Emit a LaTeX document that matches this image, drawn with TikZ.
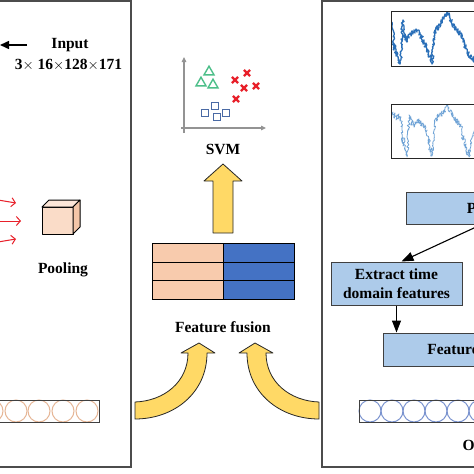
\documentclass[tikz,border=0pt]{standalone}
\usepackage{fontspec}
\setmainfont{Liberation Serif}
\usetikzlibrary{arrows.meta, positioning, calc, plotmarks, decorations.pathmorphing}

\definecolor{peach}{HTML}{F8CBAD}
\definecolor{fusblue}{HTML}{4472C4}
\definecolor{fatyellow}{HTML}{FFD966}
\definecolor{stepblue}{HTML}{ADCBEA}
\definecolor{arrowred}{HTML}{E8202A}
\definecolor{trigreen}{HTML}{4DBF8A}
\definecolor{sqblue}{HTML}{4A6AA5}
\definecolor{cubefront}{HTML}{FADCC8}
\definecolor{cubetop}{HTML}{FCE6D8}
\definecolor{cubeside}{HTML}{F4C6A8}
\definecolor{ringpeach}{HTML}{E6B696}
\definecolor{ringblue}{HTML}{7A93CF}
\definecolor{wavedark}{HTML}{2A6FB8}
\definecolor{wavelight}{HTML}{6FA3D6}

\begin{document}
\begin{tikzpicture}[
    x=1pt, y=-1pt,
    font=\fontsize{15.5}{19}\selectfont\bfseries,
    % Styles
    panel/.style={draw=black!70, line width=1.5pt},
    stepbox/.style={
        draw=black!75, fill=stepblue, line width=1pt, align=center, inner sep=0pt
    },
    conn/.style={-{Triangle[length=12pt,width=9pt]}, line width=1.1pt},
    redarrow/.style={-{Straight Barb[length=4pt,width=9pt]}, draw=arrowred, line width=1pt},
    axis/.style={-{Triangle[length=5pt,width=4.5pt]}, draw=gray!85, line width=1.2pt},
    bigarrow/.style={draw=black!85, fill=fatyellow, line width=0.8pt, line join=round},
    cell/.style={
        draw=black, line width=1pt, minimum width=71pt, minimum height=18.7pt,
        inner sep=0pt, anchor=north west
    },
    bar/.style={draw=black!75, line width=1pt},
    wavebox/.style={draw=black!85, line width=1pt},
    wave/.style={line join=round,
        decorate, decoration={random steps, segment length=1.4pt, amplitude=1.3pt}},
    cubeface/.style={draw=black, line width=1pt, line join=round}
]

    % --- Frame ---
    \useasboundingbox (0,0) rectangle (474,474);
    \clip (0,0) rectangle (474,474);
    \fill[white] (0,0) rectangle (474,474);
    \pgfmathsetseed{11}

    % --- Left panel ---
    \draw[panel] (-10,1) rectangle (131,467);

    \node (input) at (70,45) {Input};
    \node (dims) at (68.5,65) {3$\times$\ 16$\times$128$\times$171};
    \coordinate (inTail) at (27,45);
    \coordinate (inTip) at (0,45);
    \draw[-{Triangle[length=9pt,width=8pt]}, line width=1.5pt] (inTail) -- (inTip);

    \coordinate (r1s) at (-20,197);
    \coordinate (r1e) at (16,203);
    \coordinate (r2s) at (-20,221);
    \coordinate (r2e) at (21,221);
    \coordinate (r3s) at (-20,245);
    \coordinate (r3e) at (16,239);
    \draw[redarrow] (r1s) -- (r1e);
    \draw[redarrow] (r2s) -- (r2e);
    \draw[redarrow] (r3s) -- (r3e);

    % pooling cube
    \filldraw[cubeface, fill=cubefront] (42,207) rectangle (73,234);
    \filldraw[cubeface, fill=cubetop] (42,207) -- (49,200) -- (80,200) -- (73,207) -- cycle;
    \filldraw[cubeface, fill=cubeside] (73,207) -- (80,200) -- (80,227) -- (73,234) -- cycle;
    \node (pool) at (63,270) {Pooling};

    \foreach \cx in {-8,16,39,63,87}
        \draw[ringpeach, line width=1pt] (\cx,411) circle[radius=11pt];
    \draw[bar] (-10,400) rectangle (99,422);

    % --- Middle: SVM ---
    \draw[axis] (184,133) -- (184,57);
    \draw[axis] (181,128) -- (266,128);
    \draw[only marks, mark=triangle, mark size=5.8pt,
          mark options={draw=trigreen, line width=1.4pt, fill=none}]
        plot coordinates {(209,72) (201,83) (213,85)};
    \draw[only marks, mark=x, mark size=4.3pt,
          mark options={draw=arrowred, line width=2.2pt}]
        plot coordinates {(247,73) (235,80) (244,88) (256,86) (236,99)};
    \draw[only marks, mark=square, mark size=3.3pt,
          mark options={draw=sqblue, line width=1.1pt}]
        plot coordinates {(205,113) (215,106) (217,117) (226,113)};
    \node (svm) at (223,149) {SVM};

    \draw[bigarrow] (213,233) -- (213,181) -- (204,181) -- (223,164)
        -- (242,181) -- (233,181) -- (233,233) -- cycle;

    % --- Feature fusion block ---
    \foreach \r in {0,1,2} {
        \node[cell, fill=peach] (pk\r) at (152,243+18.7*\r) {};
        \node[cell, fill=fusblue] (bl\r) at (223,243+18.7*\r) {};
    }
    \node (fusion) at (223,327) {Feature fusion};

    \foreach \s/\o in {1/0, -1/454} {
        \begin{scope}[shift={(\o,0)}, xscale=\s]
            \draw[bigarrow] (135,402) .. controls (164,401) and (188,382) .. (188,353)
                -- (181,353) -- (199,343) -- (215,353) -- (207,353)
                .. controls (207,393) and (174,419) .. (135,419) -- cycle;
        \end{scope}
    }

    % --- Right panel ---
    \draw[panel] (322,1) rectangle (490,467);

    \begin{scope}
        \clip (392,12) rectangle (490,65);
        \draw[wave, wavedark, line width=1.3pt]
            plot coordinates {(392,22) (393,30) (394,50) (395,45) (396,56) (397,52) (398,60)
            (400,64) (401,58) (402,26) (403,20) (404,33) (405,40) (406,36) (407,42) (408,35)
            (409,38) (410,33) (411,36) (412,31) (413,34) (414,30) (415,33) (416,29) (417,32)
            (418,30) (419,35) (420,33) (421,38) (422,36) (423,44) (424,40) (425,47) (426,43)
            (427,52) (428,50) (429,57) (430,55) (431,62) (432,64) (433,48) (434,36) (435,30)
            (436,33) (437,26) (438,30) (439,24) (440,27) (441,20) (442,23) (443,17) (444,19)
            (445,14) (446,16) (447,12) (448,15) (449,13) (450,18) (451,22) (452,20) (453,27)
            (454,24) (455,30) (456,27) (457,32) (458,29) (459,35) (460,31) (461,37) (462,34)
            (463,42) (464,40) (465,48) (466,45) (467,53) (468,56) (469,52) (470,58) (471,55)
            (472,60) (473,57) (474,62) (475,55)};
    \end{scope}
    \draw[wavebox] (391,11) rectangle (490,66);

    \begin{scope}
        \clip (392,105) rectangle (490,157);
        \draw[wave, wavelight, line width=0.8pt]
            plot coordinates {(392,116) (393,112) (394,118) (395,113) (396,120) (397,115)
            (398,119) (399,114) (400,121) (401,117) (402,128) (403,146) (404,138) (405,150)
            (406,155) (407,157) (408,140) (409,115) (410,120) (411,117) (412,125) (413,121)
            (414,127) (415,122) (416,124) (417,120) (418,123) (419,119) (420,124) (421,121)
            (422,126) (423,123) (424,128) (425,125) (426,132) (427,130) (428,143) (429,139)
            (430,152) (431,148) (432,156) (433,145) (434,130) (435,122) (436,118) (437,121)
            (438,114) (439,117) (440,113) (441,116) (442,111) (443,114) (444,110) (445,112)
            (446,107) (447,105) (448,106) (449,108) (450,112) (451,110) (452,116) (453,114)
            (454,120) (455,117) (456,123) (457,119) (458,125) (459,121) (460,127) (461,124)
            (462,133) (463,140) (464,136) (465,148) (466,144) (467,155) (468,150) (469,157)
            (470,152) (471,145) (472,138) (473,134) (474,131) (475,128)};
    \end{scope}
    \draw[wavebox] (391,104) rectangle (490,158);

    \node[stepbox, minimum width=131pt, minimum height=32pt] (prep) at (471.5,208) {P};
    \node[stepbox, minimum width=131pt, minimum height=43pt] (extract) at (396.5,283.5)
        {Extract time\\domain features};
    \node[stepbox, minimum width=140pt, minimum height=33pt] (feat) at (453,349.5) {Feature};

    \draw[conn] ([xshift=10pt]prep.south) -- ([xshift=5pt]extract.north);
    \draw[conn] (extract.south) -- (extract.south |- feat.north);

    \foreach \cx in {370,392,414,436,458,480}
        \draw[ringblue, line width=1pt] (\cx,411) circle[radius=11pt];
    \draw[bar] (359,400) rectangle (490,422);

    \node[anchor=west] (outp) at (459,445) {O};

\end{tikzpicture}
\end{document}
